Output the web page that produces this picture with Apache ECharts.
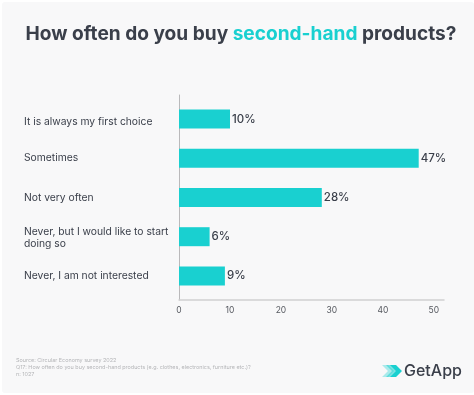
<!DOCTYPE html>
<html><head><meta charset="utf-8">
<style>html,body{margin:0;padding:0;background:#fff}#bg{position:absolute;left:2px;top:2px;width:472px;height:391px;background:#f8f8f9;border-radius:3px}#c{position:absolute;left:0;top:0;width:474px;height:395px}</style>
<script src="https://cdn.jsdelivr.net/npm/echarts@6/dist/echarts.min.js"></script>
</head><body><div id="bg"></div><div id="c"></div>
<script>
const categories = ['It is always my first choice','Sometimes','Not very often','Never, but I would like to start\ndoing so','Never, I am not interested'];
const shares = [10,47,28,6,9];
const axisTicks = [0,10,20,30,40,50];
const titleParts = ['How often do you buy ','second-hand',' products?'];
const notes = ['Source: Circular Economy survey 2022','Q17: How often do you buy second-hand products (e.g. clothes, electronics, furniture etc.)?','n: 1027'];
const chart = echarts.init(document.getElementById('c'));
const dark='#3a3f4a', teal='#19d0d0';
const labelStyles = ['low','plain','plain','low','plain'];
const chevron = (x,op)=>({type:'polygon',shape:{points:[[x,365],[x+6,365],[x+12,371],[x+6,377],[x,377],[x+6,371]]},style:{fill:teal,opacity:op}});
const catText = {fontFamily:'Inter',fontSize:10.3,lineHeight:15,color:dark,align:'left'};
chart.setOption({
  animation:false,
  backgroundColor:'transparent',
  title:[{
    left:236,top:20,textAlign:'center',
    text:`{d|${titleParts[0]}}{t|${titleParts[1]}}{d|${titleParts[2]}}`,
    textStyle:{rich:{
      d:{fontFamily:'Inter',fontWeight:700,fontSize:19.1,color:dark},
      t:{fontFamily:'Inter',fontWeight:700,fontSize:19.1,color:teal}}}
  },{
    left:11,top:352,text:notes.join('\n'),
    textStyle:{fontFamily:'Inter',fontWeight:400,fontSize:5.45,lineHeight:7,color:'#b4b5b8'}
  }],
  grid:[
    {left:179,width:255,top:99.5,height:196,outerBoundsMode:'none'},
    {left:179,width:265,top:95,height:205,outerBoundsMode:'none'}
  ],
  xAxis:[
    {gridIndex:0,type:'value',min:0,max:50,show:false},
    {gridIndex:1,type:'value',min:0,max:52,interval:10,
     axisLine:{show:true,onZero:false,lineStyle:{color:'#cfcfd1',width:1.5}},axisTick:{show:false},splitLine:{show:false},
     axisLabel:{color:'#55585f',fontFamily:'Inter',fontSize:8.5,margin:6,customValues:axisTicks}}
  ],
  yAxis:[
    {gridIndex:0,type:'category',inverse:true,data:categories,
     axisLine:{show:false},axisTick:{show:false},
     axisLabel:{color:dark,fontFamily:'Inter',fontSize:10.3,lineHeight:15,align:'left',margin:155,
       formatter:(v,i)=>v.split('\n').map((s,j)=>`{${j===0?labelStyles[i]:'plain'}|${s}}`).join('\n'),
       rich:{low:{...catText,padding:[5,0,0,0]},plain:catText}}},
    {gridIndex:1,type:'value',min:0,max:1,axisLine:{show:true,lineStyle:{color:'#b9b9bb',width:1}},axisTick:{show:false},splitLine:{show:false},axisLabel:{show:false}}
  ],
  series:[{
    type:'bar',xAxisIndex:0,yAxisIndex:0,data:shares,barWidth:19,
    itemStyle:{color:teal},
    label:{show:true,position:'right',distance:2,formatter:p=>p.value+'%',color:dark,fontFamily:'Inter',fontWeight:500,fontSize:11.5}
  }],
  graphic:[
    chevron(382,0.35),chevron(386,0.55),chevron(390,1),
    {type:'text',left:404,top:363,style:{text:'GetApp',fontFamily:'Inter',fontWeight:500,fontSize:16,fill:'#3a3f4a'}}
  ]
});
</script></body></html>
